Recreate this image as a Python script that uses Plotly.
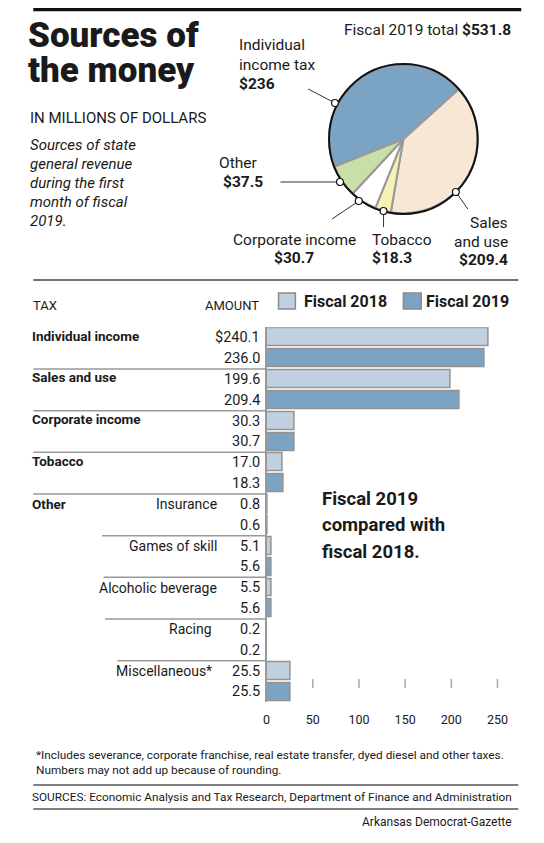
import plotly.graph_objects as go

W, H = 544, 843
OFF = 8  # the page body adds an 8px margin around the figure

taxes = ["Individual income", "Sales and use", "Corporate income", "Tobacco",
         "Insurance", "Games of skill", "Alcoholic beverage", "Racing", "Miscellaneous*"]
fiscal_2018 = [240.1, 199.6, 30.3, 17.0, 0.8, 5.1, 5.5, 0.2, 25.5]
fiscal_2019 = [236.0, 209.4, 30.7, 18.3, 0.6, 5.6, 5.6, 0.2, 25.5]
x_ticks = [0, 50, 100, 150, 200, 250]

pie_labels = ["Sales and use", "Tobacco", "Corporate income", "Other", "Individual income tax"]
pie_values = [209.4, 18.3, 30.7, 37.5, 236.0]
pie_total = 531.8

INK = "#1a1a1a"
FONT = "Roboto, Liberation Sans, sans-serif"
C2018 = "#c1d0de"
C2019 = "#7ba3c4"
PIE_COLORS = ["#f8e7d4", "#f7f1b5", "#ffffff", "#c9dea8", C2019]


def px(x):
    return (x - OFF) / W


def py(y):
    return 1 - (y - OFF) / H


annotations = []
shapes = []


def text(x, base, s, size=15, bold=False, italic=False, anchor="left", weight=None):
    if italic:
        s = "<i>" + s + "</i>"
    font = dict(family=FONT, size=size, color=INK)
    if bold:
        font["weight"] = weight or 700
    annotations.append(dict(
        x=px(x), y=py(base - 0.34 * size), xref="paper", yref="paper",
        text=s, showarrow=False, xanchor=anchor, yanchor="middle", font=font))


def line(x0, y0, x1, y1, color="#999999", width=1.5):
    shapes.append(dict(type="line", xref="paper", yref="paper",
                       x0=px(x0), y0=py(y0), x1=px(x1), y1=py(y1),
                       line=dict(color=color, width=width)))


fig = go.Figure()

# pie: centre (403, 139), radius 75
fig.add_trace(go.Pie(
    labels=pie_labels, values=pie_values, sort=False, direction="clockwise",
    rotation=48, textinfo="none", hoverinfo="label+value",
    marker=dict(colors=PIE_COLORS, line=dict(color="#999999", width=2)),
    domain=dict(x=[px(328), px(478)], y=[py(214), py(64)]),
    showlegend=False))

shapes.append(dict(type="circle", xref="paper", yref="paper",
                   x0=px(328), x1=px(478), y0=py(214), y1=py(64),
                   line=dict(color="#111111", width=2)))

# leader lines and dots
callouts = [((334, 103), (307, 89)), ((339, 182), (279, 182)),
            ((358, 201), (331, 219)), ((383, 211), (383, 227)),
            ((456, 192), (468, 209))]
for (dx, dy), (lx, ly) in callouts:
    line(dx, dy, lx, ly, color="#333333", width=1)
for (dx, dy), _ in callouts:
    shapes.append(dict(type="circle", xref="paper", yref="paper",
                       x0=px(dx - 3.5), x1=px(dx + 3.5), y0=py(dy + 3.5), y1=py(dy - 3.5),
                       fillcolor="white", line=dict(color="#111111", width=1.2)))

# bars
pos_2018 = [2 * i for i in range(len(taxes))]
pos_2019 = [2 * i + 1 for i in range(len(taxes))]
fig.add_trace(go.Bar(y=pos_2018, x=fiscal_2018, orientation="h", name="Fiscal 2018",
                     width=0.86, marker=dict(color=C2018, line=dict(color="#929292", width=1.5)),
                     xaxis="x", yaxis="y", showlegend=False))
fig.add_trace(go.Bar(y=pos_2019, x=fiscal_2019, orientation="h", name="Fiscal 2019",
                     width=0.86, marker=dict(color=C2019, line=dict(color="#929292", width=1.5)),
                     xaxis="x", yaxis="y", showlegend=False))

# value labels
for i in range(len(taxes)):
    for pos, val in ((pos_2018[i], fiscal_2018[i]), (pos_2019[i], fiscal_2019[i])):
        label = ("$%.1f" if pos == 0 else "%.1f") % val
        annotations.append(dict(x=px(260), y=pos, xref="paper", yref="y", text=label,
                                showarrow=False, xanchor="right", yanchor="middle",
                                font=dict(family=FONT, size=14.5, color=INK)))

# row labels
for i, name in enumerate(taxes):
    if i < 4:
        annotations.append(dict(x=px(26.5), y=pos_2018[i], xref="paper", yref="y", yshift=2,
                                text=name, showarrow=False, xanchor="left", yanchor="middle",
                                font=dict(family=FONT, size=13.5, color=INK, weight=700)))
    else:
        right = 217 if i < 7 else 212
        annotations.append(dict(x=px(right), y=pos_2018[i], xref="paper", yref="y",
                                text=name, showarrow=False, xanchor="right",
                                yanchor="middle", font=dict(family=FONT, size=14, color=INK)))
annotations.append(dict(x=px(26.5), y=pos_2018[4], xref="paper", yref="y",
                        text="Other", showarrow=False, xanchor="left", yanchor="middle",
                        font=dict(family=FONT, size=13.5, color=INK, weight=700)))

# group separators
sep_start = [29.5, 29.5, 29.5, 29.5, 99, 100.5, 102, 114.5]
for i, xs in enumerate(sep_start):
    shapes.append(dict(type="line", xref="paper", yref="y", x0=px(xs), x1=px(265),
                       y0=2 * i + 1.5, y1=2 * i + 1.5,
                       line=dict(color="#999999", width=1.5)))

# floating tick marks
for t in x_ticks[1:]:
    shapes.append(dict(type="line", xref="x", yref="paper", x0=t, x1=t,
                       y0=py(688), y1=py(679), line=dict(color="#aaaaaa", width=1.5)))

# legend
shapes.append(dict(type="rect", xref="paper", yref="paper", x0=px(277), x1=px(294),
                   y0=py(309), y1=py(293), fillcolor=C2018, line=dict(color="#8a8a8a", width=1.5)))
shapes.append(dict(type="rect", xref="paper", yref="paper", x0=px(403), x1=px(421),
                   y0=py(309), y1=py(293), fillcolor=C2019, line=dict(color="#8a8a8a", width=1.5)))
text(301, 307, "Fiscal 2018", size=16, bold=True)
text(424, 307, "Fiscal 2019", size=16, bold=True)
text(27, 310, "TAX", size=13)
text(259, 310, "AMOUNT", size=13, anchor="right")

# rules
line(29.5, OFF + 1.5, 522, OFF + 1.5, color="#111111", width=3.5)
line(29.5, 280, 519, 280, color="#444444", width=1.5)
line(29.5, 785, 519, 785, color="#555555", width=1.5)
line(29.5, 809, 519, 809, color="#555555", width=1.5)

# header text
text(22, 47, "Sources of", size=35, bold=True, weight=900)
text(22, 82, "the money", size=35, bold=True, weight=900)
text(24.5, 123, "IN MILLIONS OF DOLLARS", size=15)
for k, s in enumerate(["Sources of state", "general revenue", "during the first",
                       "month of fiscal", "2019."]):
    text(24.5, 150 + 19 * k, s, size=15, italic=True)
text(514, 35, "Fiscal 2019 total <b>$%.1f</b>" % pie_total, size=15.5, anchor="right")

text(235, 50, "Individual", size=15.5)
text(235, 70, "income tax", size=15.5)
text(235, 89, "$%g" % pie_values[4], size=15.5, bold=True)
text(215, 168, "Other", size=15.5)
text(219, 187, "$%.1f" % pie_values[3], size=15.5, bold=True)
text(293, 245, "Corporate income", size=15.5, anchor="center")
text(293, 263, "$%.1f" % pie_values[2], size=15.5, bold=True, anchor="center")
text(369, 245, "Tobacco", size=15.5)
text(369, 263, "$%.1f" % pie_values[1], size=15.5, bold=True)
text(511, 228, "Sales", size=15.5, anchor="right")
text(511, 247, "and use", size=15.5, anchor="right")
text(511, 265, "$%.1f" % pie_values[0], size=15.5, bold=True, anchor="right")

text(319, 505, "Fiscal 2019", size=18.5, bold=True)
text(319, 531.5, "compared with", size=18.5, bold=True)
text(319, 558, "fiscal 2018.", size=18.5, bold=True)

# footer
text(30, 759, "*Includes severance, corporate franchise, real estate transfer, dyed diesel and other taxes.", size=11.8)
text(30, 774, "Numbers may not add up because of rounding.", size=11.8)
text(26.5, 801.5, "SOURCES: Economic Analysis and Tax Research, Department of Finance and Administration", size=11.8)
text(515, 826, "Arkansas Democrat-Gazette", size=12, anchor="right")

fig.update_layout(
    width=W, height=H, margin=dict(l=0, r=0, t=0, b=0),
    paper_bgcolor="white", plot_bgcolor="white",
    barmode="overlay", bargap=0, showlegend=False,
    xaxis=dict(domain=[px(265), px(507.3)], range=[0, 260], tickvals=x_ticks,
               showgrid=False, zeroline=False, showline=False, ticks="outside",
               ticklen=6, tickcolor="rgba(0,0,0,0)",
               tickfont=dict(family=FONT, size=12.5, color=INK), anchor="y"),
    yaxis=dict(domain=[py(702.4), py(327.3)], range=[17.5, -0.5], showticklabels=False,
               showgrid=False, zeroline=False, showline=True, linecolor="#999999",
               linewidth=1.5, ticks=""),
    annotations=annotations, shapes=shapes,
)

fig.write_html("out.html")
